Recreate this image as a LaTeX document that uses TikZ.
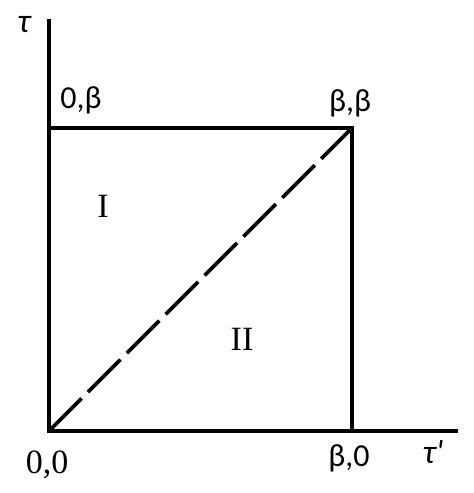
\documentclass[tikz,border=0pt]{standalone}
\usepackage{fontspec}
\setmainfont{Liberation Serif}
\newfontfamily\labfont{Carlito}
\begin{document}
\begin{tikzpicture}[x=1pt,y=-1pt,
  axisline/.style={line width=3.6pt,line cap=butt},
  diagline/.style={line width=3.6pt,dash pattern=on 46pt off 9pt},
  corner/.style={font=\labfont\fontsize{32}{36}\selectfont,inner sep=0pt},
  region/.style={font=\fontsize{34}{38}\selectfont,inner sep=0pt},
  axlab/.style={font=\labfont\itshape\fontsize{34}{38}\selectfont,inner sep=0pt}]
\useasboundingbox (0,0) rectangle (474,493);
\coordinate (O) at (49,431);
\coordinate (Ytop) at (49,19);
\coordinate (Xend) at (458,431);
\coordinate (TL) at (49,128);
\coordinate (TR) at (352,128);
\coordinate (BR) at (352,431);
\draw[axisline] (Ytop) -- (O) -- (Xend);
\draw[axisline] (TL) -- (TR) -- (BR);
\draw[diagline] (O) -- (TR);
\node[axlab] (tau) at (24,25) {τ};
\node[axlab] (taup) at (433,452) {τ'};
\node[corner] (n0b) at (81,100) {0,β};
\node[corner] (nbb) at (350,103) {β,β};
\node[corner] (nb0) at (349,458) {β,0};
\node[region] (n00) at (47,465) {0,0};
\node[region] (r1) at (103,206) {I};
\node[region] (r2) at (242,339) {II};
\end{tikzpicture}
\end{document}
